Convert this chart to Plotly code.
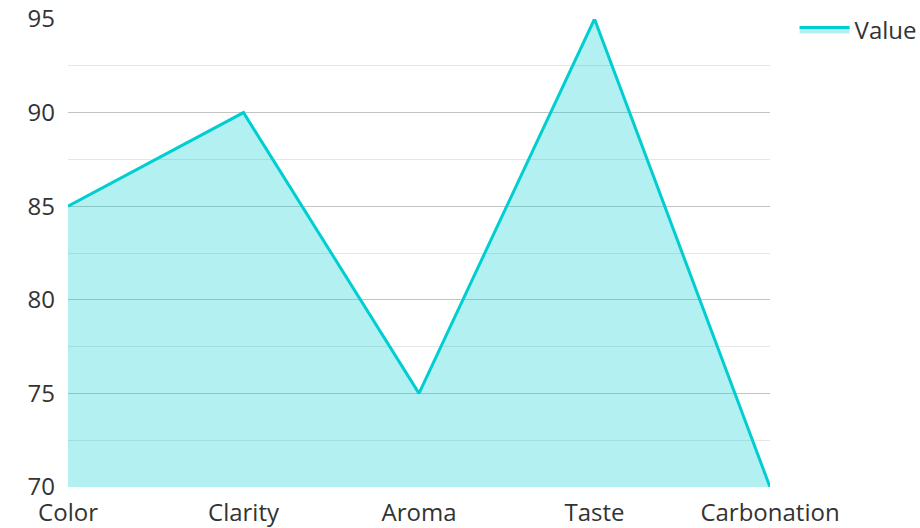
import plotly.graph_objects as go

categories = ["Color", "Clarity", "Aroma", "Taste", "Carbonation"]
values = [85, 90, 75, 95, 70]
series_name = "Value"

fig = go.Figure()
fig.add_trace(go.Scatter(
    x=categories, y=values, name=series_name, mode="lines",
    line=dict(color="#00CED1", width=3),
    fill="tozeroy", fillcolor="rgba(0,206,209,0.3)",
))

fig.update_layout(
    width=920, height=528,
    margin=dict(l=68, r=150, t=19, b=41, autoexpand=False),
    paper_bgcolor="white", plot_bgcolor="white",
    font=dict(family="Open Sans", size=24, color="#333333"),
    showlegend=True,
    legend=dict(x=1.035, y=1.025, xanchor="left", yanchor="top", itemwidth=50,
                font=dict(size=24, color="#333333"), bgcolor="rgba(0,0,0,0)"),
    xaxis=dict(range=[0, 4], showgrid=False, zeroline=False, showline=False, automargin=False,
               ticks="", ticklabelstandoff=9, tickfont=dict(size=24, color="#333333")),
    yaxis=dict(range=[70, 95], dtick=5, showgrid=True, gridcolor="#c4c4c4", gridwidth=1,
               minor=dict(dtick=2.5, showgrid=True, gridcolor="#e6e6e6", gridwidth=1),
               zeroline=False, showline=False, ticks="", ticklabelstandoff=12, automargin=False,
               tickfont=dict(size=24, color="#333333")),
)

fig.write_html("out.html")
